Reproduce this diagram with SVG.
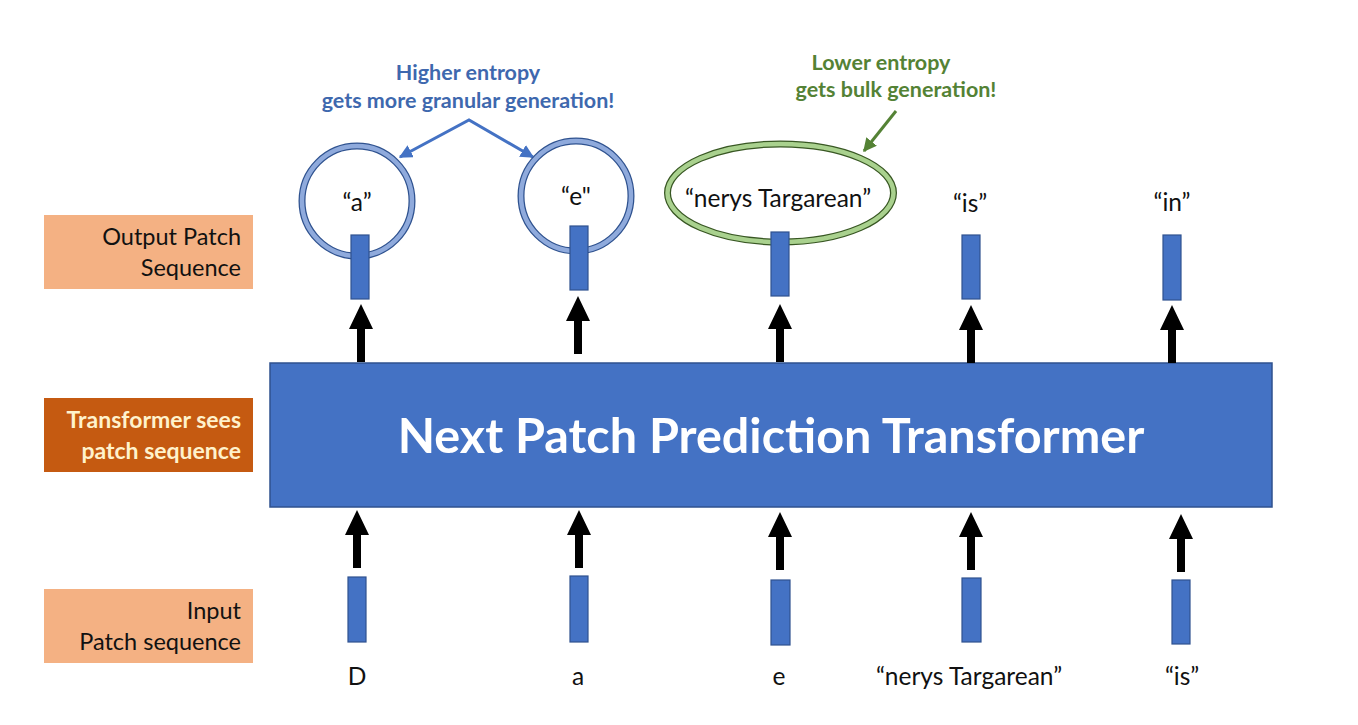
<svg xmlns="http://www.w3.org/2000/svg" width="1358" height="725" viewBox="0 0 1358 725">
<style>
.lbl{fill:#F4B183}
.lt{font-family:Lato,"Open Sans",sans-serif;font-size:23.5px;fill:#111;text-anchor:end}
.lw{font-family:Lato,"Open Sans",sans-serif;font-size:23px;font-weight:bold;fill:#FFF2CC;text-anchor:end}
.bar{fill:#4472C4;stroke:#2F528F;stroke-width:1.2}
.tk{font-family:Lato,"Open Sans",sans-serif;font-size:24.5px;fill:#111;text-anchor:middle}
.ann{font-family:Lato,"Open Sans",sans-serif;font-size:21.5px;font-weight:bold;text-anchor:middle}
.up{fill:#000}
</style>
<defs>
<marker id="ab" viewBox="0 0 10 10" refX="9" refY="5" markerWidth="4.5" markerHeight="4.5" orient="auto-start-reverse"><path d="M0,0 L10,5 L0,10 z" fill="#4472C4"/></marker>
<marker id="ag" viewBox="0 0 10 10" refX="9" refY="5" markerWidth="4.5" markerHeight="4.5" orient="auto"><path d="M0,0 L10,5 L0,10 z" fill="#548235"/></marker>
<path id="arr" d="M-4,58 L-4,25 L-12,25 L0,0 L12,25 L4,25 L4,58 z"/>
</defs>
<rect width="1358" height="725" fill="#fff"/>

<g id="label-output"><rect class="lbl" x="44" y="215" width="209" height="74"/><text class="lt" x="241" y="245">Output Patch</text><text class="lt" x="241" y="276">Sequence</text></g>
<g id="label-transformer"><rect x="44" y="398" width="209" height="74" fill="#C55A11"/><text class="lw" x="241" y="428">Transformer sees</text><text class="lw" x="241" y="459">patch sequence</text></g>
<g id="label-input"><rect class="lbl" x="44" y="589" width="209" height="74"/><text class="lt" x="241" y="619">Input</text><text class="lt" x="241" y="650">Patch sequence</text></g>

<g id="transformer"><rect x="270" y="363" width="1002" height="144" fill="#4472C4" stroke="#2F528F" stroke-width="1.5"/><text x="771" y="453" font-family="Lato,'Open Sans',sans-serif" font-size="48.5" font-weight="bold" fill="#fff" text-anchor="middle">Next Patch Prediction Transformer</text></g>

<g id="connectors">
<use href="#arr" class="up" x="361" y="304"/>
<use href="#arr" class="up" x="578" y="296"/>
<use href="#arr" class="up" x="780" y="304"/>
<use href="#arr" class="up" x="971" y="305"/>
<use href="#arr" class="up" x="1172" y="305"/>
<use href="#arr" class="up" x="357" y="510"/>
<use href="#arr" class="up" x="579" y="510"/>
<use href="#arr" class="up" x="780" y="512"/>
<use href="#arr" class="up" x="971" y="512"/>
<use href="#arr" class="up" x="1181" y="514"/>
<polyline points="400,157 469,120 533,157" fill="none" stroke="#4472C4" stroke-width="3" marker-start="url(#ab)" marker-end="url(#ab)"/>
<line x1="896" y1="111" x2="864" y2="151" stroke="#548235" stroke-width="3" marker-end="url(#ag)"/>
</g>

<g id="out-a"><circle cx="357" cy="201" r="55" fill="none" stroke="#2F528F" stroke-width="7"/><circle cx="357" cy="201" r="55" fill="none" stroke="#8FAADC" stroke-width="4.5"/><text class="tk" x="357" y="211">“a”</text><rect class="bar" x="351" y="235" width="18" height="64"/></g>
<g id="out-e"><circle cx="576" cy="196" r="55" fill="none" stroke="#2F528F" stroke-width="7"/><circle cx="576" cy="196" r="55" fill="none" stroke="#8FAADC" stroke-width="4.5"/><text class="tk" x="576" y="205">“e"</text><rect class="bar" x="570" y="226" width="18" height="64"/></g>
<g id="out-nerys"><ellipse cx="780.5" cy="193" rx="113" ry="49" fill="none" stroke="#385723" stroke-width="7"/><ellipse cx="780.5" cy="193" rx="113" ry="49" fill="none" stroke="#A9D18E" stroke-width="4.5"/><text class="tk" x="778" y="207">“nerys Targarean”</text><rect class="bar" x="771" y="232" width="18" height="64"/></g>
<g id="out-is"><text class="tk" x="970" y="212">“is”</text><rect class="bar" x="962" y="235" width="18" height="64"/></g>
<g id="out-in"><text class="tk" x="1172" y="211">“in”</text><rect class="bar" x="1163" y="235" width="18" height="65"/></g>

<g id="in-D"><rect class="bar" x="348" y="577" width="18" height="65"/><text class="tk" x="357" y="685">D</text></g>
<g id="in-a"><rect class="bar" x="570" y="576" width="18" height="66"/><text class="tk" x="578" y="685">a</text></g>
<g id="in-e"><rect class="bar" x="771" y="580" width="19" height="65"/><text class="tk" x="779" y="685">e</text></g>
<g id="in-nerys"><rect class="bar" x="962" y="578" width="19" height="64"/><text class="tk" x="969" y="685">“nerys Targarean”</text></g>
<g id="in-is"><rect class="bar" x="1172" y="580" width="18" height="64"/><text class="tk" x="1182" y="685">“is”</text></g>

<g id="ann-high"><text class="ann" fill="#3E68AE" x="468" y="80">Higher entropy</text><text class="ann" fill="#3E68AE" x="468" y="108">gets more granular generation!</text></g>
<g id="ann-low"><text class="ann" fill="#548235" x="881" y="70">Lower entropy</text><text class="ann" fill="#548235" x="896" y="97">gets bulk generation!</text></g>
</svg>
